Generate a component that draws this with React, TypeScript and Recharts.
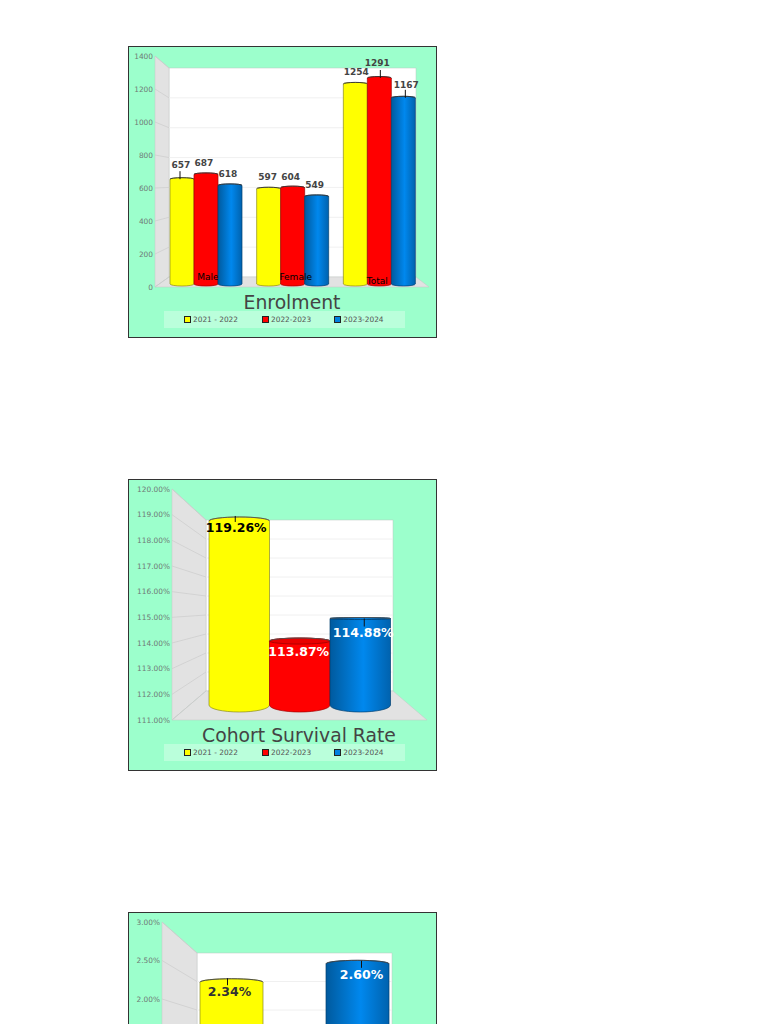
import { BarChart, Bar, XAxis, YAxis, Legend, LabelList, ReferenceArea } from 'recharts'

const SERIES_NAMES = ['2021 - 2022', '2022-2023', '2023-2024']
const SERIES_KEYS = ['y2021', 'y2022', 'y2023']
const SERIES_COLORS = ['#FFFF00', '#FF0000', '#0080E0']

const ENROL_CATEGORIES = ['Male', 'Female', 'Total']
const ENROL_2021 = [657, 597, 1254]
const ENROL_2022 = [687, 604, 1291]
const ENROL_2023 = [618, 549, 1167]
const ENROL_TICKS = [0, 200, 400, 600, 800, 1000, 1200, 1400]
const ENROL_LEADERS = [657, 1291, 1167]

const COHORT_2021 = [119.26]
const COHORT_2022 = [113.87]
const COHORT_2023 = [114.88]
const COHORT_TICKS = [111, 112, 113, 114, 115, 116, 117, 118, 119, 120]
const COHORT_LEADERS = [119.26, 114.88]

// third chart runs off the page: the red bar never shows, so it has no value here
const THIRD_2021 = [2.34]
const THIRD_2022 = [null]
const THIRD_2023 = [2.6]
const THIRD_TICKS = [2, 2.5, 3]
const THIRD_LEADERS = [2.34, 2.6]

const W = 309
const H = 292
const FONT = '"DejaVu Sans", sans-serif'
const PLOT_TOP = 10
const PLOT_H = 231
const LEGEND_H = 17
const WALL = '#E2E2E2'

const rows = (cats: string[], a: any[], b: any[], c: any[]) =>
  cats.map((name, i) => ({ name, y2021: a[i], y2022: b[i], y2023: c[i] }))

const Cylinder = (props: any) => {
  const { x, y, width, height, fill, st, idx, gid } = props
  if (width == null || !height) return null
  const plotBottom = y + height
  const bottom = plotBottom - st.barLift
  const top = bottom - height * st.barScale
  const rx = width / 2
  const capRy = st.capRy[idx]
  const paint = idx === 2 ? `url(#${gid})` : fill
  const edge = idx === 0 ? '#8a8a20' : idx === 1 ? '#a00000' : '#003f70'
  return (
    <g>
      <path
        d={`M${x},${top} A${rx},${capRy} 0 0 1 ${x + width},${top} L${x + width},${bottom} A${rx},${st.baseRy} 0 0 1 ${x},${bottom} Z`}
        fill={paint}
        stroke={edge}
        strokeWidth={0.7}
      />
      {st.capLine[idx] && (
        <path
          d={`M${x},${top} A${rx},${capRy} 0 0 0 ${x + width},${top} A${rx},${capRy} 0 0 0 ${x},${top} Z`}
          fill={idx === 1 ? '#e80000' : 'none'}
          stroke={edge}
          strokeWidth={0.8}
        />
      )}
      <path d={`M${x},${top} A${rx},${capRy} 0 0 1 ${x + width},${top}`} fill="none" stroke={st.topEdge} strokeWidth={0.9} />
    </g>
  )
}

const ValueLabel = (props: any) => {
  const { x, y, width, height, value, st, idx } = props
  if (x == null || value == null) return null
  const top = y + height - st.barLift - height * st.barScale
  const cx = x + width / 2
  const leader = st.leaders.includes(value)
  const tx = cx + st.labelDx[idx] + (st.valueDx[value] || 0)
  const ty = top + (leader ? st.labelDyLeader[idx] : st.labelDy[idx])
  const lx = cx + st.leaderDx[idx]
  return (
    <g>
      {leader && <line x1={lx} x2={lx} y1={top + st.leaderSpan[idx][0]} y2={top + st.leaderSpan[idx][1]} stroke="#111" strokeWidth={1} />}
      <text x={tx} y={ty} textAnchor="middle" fontFamily={FONT} fontWeight={700} fontSize={st.labelSize} fill={st.labelColors[idx]}>
        {st.fmt(value)}
      </text>
    </g>
  )
}

// category names sit on the floor over the bars, so they hang off the last series
const CategoryLabel = (props: any) => {
  const { x, y, width, height, value, index, st } = props
  if (!value) return null
  return (
    <text x={x + width / 2 - width + st.catDx[index]} y={y + height + st.catDy[index]} textAnchor="middle" fontFamily={FONT} fontSize={9} fill="#000">
      {value}
    </text>
  )
}

const Walls = (props: any) => {
  const { y, height, st, ticks } = props
  const [min, max] = st.domain
  const left = st.left
  const right = W - st.right
  const bottom = y + height
  const bl = left + st.wall[0]
  const bt = y + st.wall[1]
  const br = right - st.wall[2]
  const bb = bottom - st.wall[3]
  const frontY = (t: number) => bottom - ((t - min) / (max - min)) * height
  const backY = (t: number) => bb - ((t - min) / (max - min)) * (bb - bt)
  return (
    <g>
      <rect x={bl} y={bt} width={br - bl} height={bb - bt} fill="#fff" stroke="#b8c8c0" strokeWidth={0.5} />
      <polygon points={`${left},${y} ${bl},${bt} ${bl},${bb} ${left},${bottom}`} fill={WALL} stroke="#c4c4c4" strokeWidth={0.5} />
      <polygon points={`${left},${bottom} ${bl},${bb} ${br},${bb} ${right},${bottom}`} fill={WALL} stroke="#c4c4c4" strokeWidth={0.5} />
      {ticks.map((t: number) => (
        <g key={t}>
          <line x1={left} x2={bl} y1={frontY(t)} y2={backY(t)} stroke="#cccccc" strokeWidth={0.7} />
          {t > min && t < max && <line x1={bl} x2={br} y1={backY(t)} y2={backY(t)} stroke="#ececec" strokeWidth={0.8} />}
        </g>
      ))}
    </g>
  )
}

const LegendBox = ({ payload }: any) => (
  <div style={{ display: 'flex', alignItems: 'center', height: LEGEND_H, paddingLeft: 20, background: 'rgba(255,255,255,0.3)', fontFamily: FONT, fontSize: 7.4, color: '#555', whiteSpace: 'nowrap' }}>
    {(payload || []).map((p: any, i: number) => (
      <div key={p.value} style={{ display: 'flex', alignItems: 'center', flexShrink: 0, marginRight: i === 0 ? 24 : 23 }}>
        <span style={{ width: 5, height: 5, marginRight: 2, background: p.color, border: '1px solid #222', display: 'inline-block' }} />
        <span>{p.value}</span>
      </div>
    ))}
  </div>
)

function Chart3D({ id, top, title, titleX, data, ticks, st }: any) {
  const bottomMargin = H - PLOT_TOP - PLOT_H - (title ? LEGEND_H : 0)
  return (
    <div style={{ position: 'absolute', left: 128, top, width: W, height: H, boxSizing: 'border-box', border: '1px solid #333', background: '#9CFFCC' }}>
      <div style={{ position: 'absolute', left: -1, top: -1 }}>
        <BarChart
          width={W}
          height={H}
          data={data}
          margin={{ top: PLOT_TOP, right: st.right, left: 0, bottom: bottomMargin }}
          barGap={0}
          barSize={st.barSize}
        >
          <defs>
            <linearGradient id={id} x1="0" x2="1" y1="0" y2="0">
              <stop offset="0%" stopColor="#005A9E" />
              <stop offset="55%" stopColor="#0088EE" />
              <stop offset="100%" stopColor="#0062AE" />
            </linearGradient>
          </defs>
          <YAxis
            type="number"
            domain={st.domain}
            ticks={ticks}
            interval={0}
            width={st.left}
            allowDataOverflow
            axisLine={false}
            tickLine={false}
            tickSize={0}
            tickMargin={2}
            tickFormatter={st.tickFmt}
            tick={{ fontSize: 7.4, fontFamily: FONT, fill: '#6f7a76' }}
          />
          <ReferenceArea y1={st.domain[0]} y2={st.domain[1]} ifOverflow="visible" shape={(p: any) => <Walls {...p} st={st} ticks={ticks} />} />
          <XAxis
            dataKey="name"
            height={0}
            axisLine={false}
            tickLine={false}
            tick={false}
            padding={{ left: st.pad[0], right: st.pad[1] }}
            interval={0}
          />
          {SERIES_KEYS.map((key, i) => (
            <Bar
              key={key}
              dataKey={key}
              name={SERIES_NAMES[i]}
              fill={SERIES_COLORS[i]}
              isAnimationActive={false}
              shape={(p: any) => <Cylinder {...p} st={st} idx={i} gid={id} />}
            >
              <LabelList dataKey={key} content={(p: any) => <ValueLabel {...p} st={st} idx={i} />} />
              {i === 2 && <LabelList dataKey="name" content={(p: any) => <CategoryLabel {...p} st={st} />} />}
            </Bar>
          ))}
          {title && (
            <text x={titleX} y={263} textAnchor="middle" fontFamily={FONT} fontSize={18.8} fill="#444">
              {title}
            </text>
          )}
          {title && (
            <Legend
              content={<LegendBox />}
              wrapperStyle={{ position: 'absolute', left: 36, top: 265, width: 241, height: LEGEND_H, bottom: 'auto' }}
            />
          )}
        </BarChart>
      </div>
    </div>
  )
}

const pct = (v: number) => `${v.toFixed(2)}%`

const ENROL_STYLE = {
  domain: [0, 1400], left: 27, right: 8, pad: [8, 6], barSize: 24, wall: [14, 12, 13, 10],
  barLift: 3, barScale: 0.967, capRy: [1.5, 1.5, 1.5], capLine: [false, false, false], baseRy: 2, topEdge: '#333',
  labelSize: 9, labelColors: ['#444', '#444', '#444'], leaders: ENROL_LEADERS,
  labelDx: [-1, -2, -2], valueDx: { 1254: 2, 1167: 5 }, labelDy: [-9, -8, -8], labelDyLeader: [-11, -12, -10],
  leaderDx: [-2, 1, 2], leaderSpan: [[0, -8], [0, -8], [0, -8]],
  catDx: [2, 3, -2], catDy: [-7, -7, -3],
  fmt: (v: number) => String(v), tickFmt: (v: number) => String(v),
}
const COHORT_STYLE = {
  domain: [111, 120], left: 44, right: 10, pad: [26, 26], barSize: 60.5, wall: [34, 31, 34, 29],
  barLift: 15, barScale: 0.868, capRy: [4, 3, 1], capLine: [false, true, true], baseRy: 7, topEdge: '#555',
  labelSize: 12.5, labelColors: ['#000', '#fff', '#fff'], leaders: COHORT_LEADERS,
  labelDx: [-3, -1, 3], valueDx: {}, labelDy: [15, 15, 18], labelDyLeader: [11, 15, 18],
  leaderDx: [-4, 0, 4], leaderSpan: [[-5, 1], [0, 0], [0, 8]],
  catDx: [0], catDy: [0],
  fmt: pct, tickFmt: pct,
}
const THIRD_STYLE = {
  domain: [0, 3], left: 34, right: 10, pad: [26, 26], barSize: 63, wall: [35, 31, 35, 29],
  barLift: 5, barScale: 0.92, capRy: [3.5, 3.5, 3.5], capLine: [false, false, false], baseRy: 7, topEdge: '#444',
  labelSize: 12.5, labelColors: ['#333', '#fff', '#fff'], leaders: THIRD_LEADERS,
  labelDx: [-2, 0, 4], valueDx: {}, labelDy: [14, 13, 15], labelDyLeader: [14, 13, 15],
  leaderDx: [-4, 0, 4], leaderSpan: [[-4, 3], [0, 0], [-3, 4]],
  catDx: [0], catDy: [0],
  fmt: pct, tickFmt: pct,
}

export default function App() {
  return (
    <div style={{ position: 'fixed', left: 0, top: 0, width: 768, height: 1024, overflow: 'hidden', background: '#fff' }}>
      <Chart3D id="g1" top={46} title="Enrolment" titleX={164} data={rows(ENROL_CATEGORIES, ENROL_2021, ENROL_2022, ENROL_2023)} ticks={ENROL_TICKS} st={ENROL_STYLE} />
      <Chart3D id="g2" top={479} title="Cohort Survival Rate" titleX={171} data={rows([''], COHORT_2021, COHORT_2022, COHORT_2023)} ticks={COHORT_TICKS} st={COHORT_STYLE} />
      <Chart3D id="g3" top={912} data={rows([''], THIRD_2021, THIRD_2022, THIRD_2023)} ticks={THIRD_TICKS} st={THIRD_STYLE} />
    </div>
  )
}
